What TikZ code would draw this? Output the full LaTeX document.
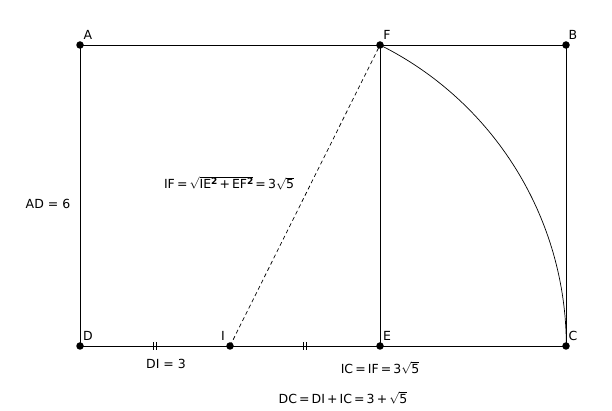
\documentclass[tikz,border=0pt]{standalone}
\usepackage{fontspec}
\setmainfont{DejaVu Sans}
\newcommand{\hisup}[1]{\raisebox{4pt}{\fontsize{9}{10}\selectfont\bfseries #1}}
\begin{document}
\begin{tikzpicture}[x=1pt,y=1pt,
  lbl/.style={font=\fontsize{12.5}{14}\selectfont, inner sep=0pt},
  pt/.style={circle, fill=black, inner sep=0pt, minimum size=7.5pt},
  seg/.style={line width=0.8pt},
  tick/.style={line width=0.8pt}]
\useasboundingbox (0,0) rectangle (612,411);
\node[pt] (A) at (80,366) {};
\node[pt] (F) at (380,366) {};
\node[pt] (B) at (566,366) {};
\node[pt] (D) at (80,65) {};
\node[pt] (I) at (230,65) {};
\node[pt] (E) at (380,65) {};
\node[pt] (C) at (566,65) {};
\draw[seg] (A.center) -- (B.center) -- (C.center) -- (D.center) -- cycle;
\draw[seg] (F.center) -- (E.center);
\draw[line width=0.7pt, dash pattern=on 4pt off 3pt] (I.center) -- (F.center);
\draw[line width=0.7pt] (F.center) arc[start angle=63.51, end angle=0, radius=336.3];
% ticks
\coordinate (t1) at (155,65);
\coordinate (t2) at (305,65);
\draw[tick] ([xshift=-1.5pt,yshift=-4pt]t1) -- ([xshift=-1.5pt,yshift=4pt]t1);
\draw[tick] ([xshift=1.5pt,yshift=-4pt]t1) -- ([xshift=1.5pt,yshift=4pt]t1);
\draw[tick] ([xshift=-1.5pt,yshift=-4pt]t2) -- ([xshift=-1.5pt,yshift=4pt]t2);
\draw[tick] ([xshift=1.5pt,yshift=-4pt]t2) -- ([xshift=1.5pt,yshift=4pt]t2);
% labels
\node[lbl] (lA) at (88,376) {A};
\node[lbl] (lF) at (387,376) {F};
\node[lbl] (lB) at (573,376) {B};
\node[lbl] (lD) at (88,75) {D};
\node[lbl] (lI) at (223,75) {I};
\node[lbl] (lE) at (387,75) {E};
\node[lbl] (lC) at (573,75) {C};
\node[lbl] (lAD) at (48,207) {AD = 6};
\node[lbl] (lDI) at (166,47) {DI = 3};
\node[lbl] (lIF) at (229,228) {IF\,=\,$\sqrt{\mbox{IE\hisup{2}\,+\,EF\hisup{2}}}$\,=\,3$\sqrt{\mbox{5}}$};
\node[lbl] (lIC) at (380,43) {IC\,=\,IF\,=\,3$\sqrt{\mbox{5}}$};
\node[lbl] (lDC) at (343,13) {DC\,=\,DI\,+\,IC\,=\,3\,+\,$\sqrt{\mbox{5}}$};
\end{tikzpicture}
\end{document}
